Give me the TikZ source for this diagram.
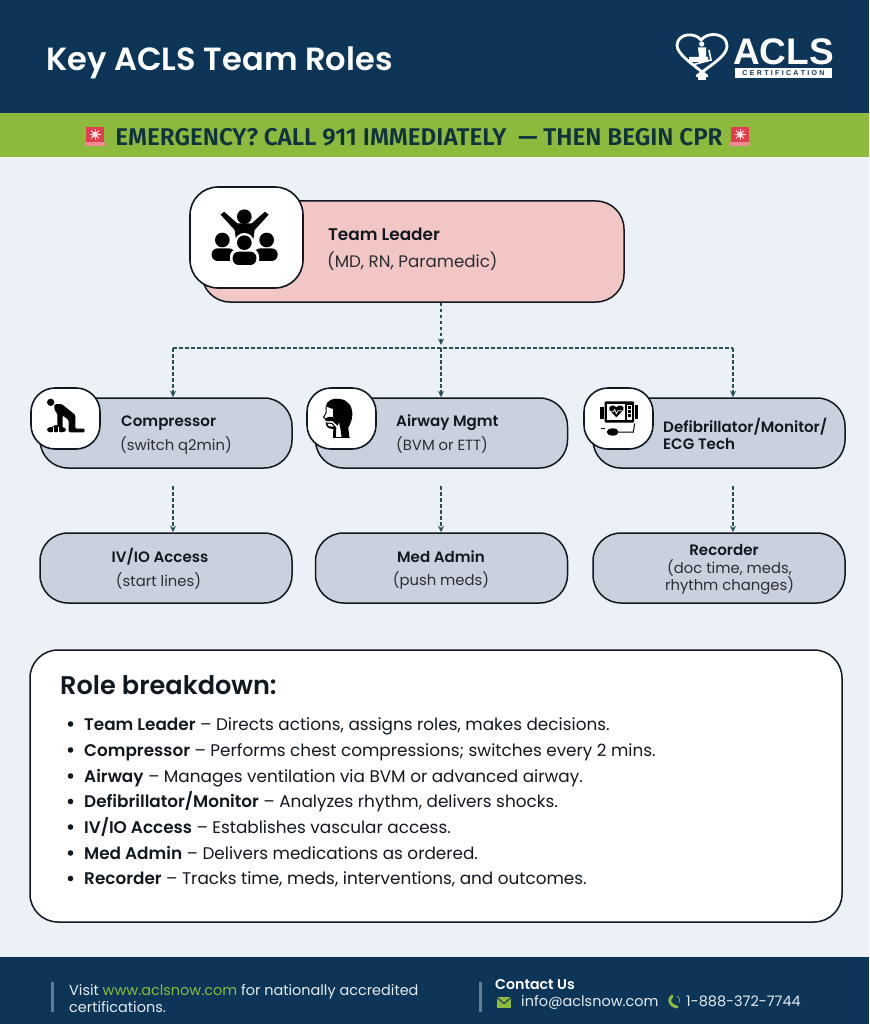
\documentclass[tikz,border=0pt]{standalone}
\usepackage{fontspec}
\setmainfont{Poppins}[BoldFont={Poppins SemiBold}]
\newfontfamily\banfont{Fira Sans}[BoldFont={Fira Sans SemiBold}]
\newfontfamily\logofont{Liberation Sans}
\usetikzlibrary{arrows.meta}
\definecolor{navy}{HTML}{0C3558}
\definecolor{limeg}{HTML}{8DB93D}
\definecolor{pagebg}{HTML}{ECF0F7}
\definecolor{pinkb}{HTML}{F3C6C6}
\definecolor{slateb}{HTML}{CAD1DE}
\definecolor{ink}{HTML}{111820}
\definecolor{teal}{HTML}{27505A}
\definecolor{sirenr}{HTML}{E23E4E}
\definecolor{footbar}{HTML}{5F7F95}
\definecolor{txtg}{HTML}{2A2E33}
\definecolor{bantxt}{HTML}{10323F}
\tikzset{
 roundbox/.style={draw=ink,line width=1.5pt,rounded corners=28pt,anchor=center,inner sep=0pt},
 rolebox/.style={roundbox,fill=slateb,minimum width=252pt,minimum height=70pt},
 iconbox/.style={draw=ink,line width=1.6pt,fill=white,rounded corners=24pt,minimum width=69pt,minimum height=61pt,inner sep=0pt},
 link/.style={draw=teal,line width=1.3pt,dash pattern=on 3.6pt off 2.4pt},
 linka/.style={link,-{Stealth[length=6.5pt,width=6pt,teal]}},
 tname/.style={font=\fontsize{15.1}{17}\selectfont\bfseries,text=ink,inner sep=0pt,anchor=west},
 tsub/.style={font=\fontsize{14.8}{17}\selectfont,text=txtg,inner sep=0pt,anchor=west},
 cname/.style={font=\fontsize{15.1}{17}\selectfont\bfseries,text=ink,inner sep=0pt},
 csub/.style={font=\fontsize{14.8}{17}\selectfont,text=txtg,inner sep=0pt,align=center},
 item/.style={font=\fontsize{16.85}{19}\selectfont,text=ink,inner sep=0pt,anchor=west,text height=12pt,text depth=4pt},
 foot/.style={font=\fontsize{14.45}{17}\selectfont,text=white!90!navy,inner sep=0pt,anchor=west,text height=11pt,text depth=3pt},
 bar/.style={draw=footbar,line width=3pt}
}
\newcommand{\siren}[1]{%
 \begin{scope}[shift={#1}]
  \fill[sirenr] (0,0) rectangle (18,15);
  \fill[sirenr!60!white] (-1,15) rectangle (19,19);
  \fill[white!85!sirenr] (9,7.5) circle (2.8);
  \foreach \a in {0,45,...,315} \draw[white!85!sirenr,line width=.9pt] (9,7.5) -- ++(\a:5.5);
 \end{scope}}
\begin{document}
\begin{tikzpicture}[x=1pt,y=-1pt]
\useasboundingbox (0,0) rectangle (869,1024);
\fill[pagebg] (0,0) rectangle (869,1024);
\fill[navy] (0,0) rectangle (869,113);
\fill[limeg] (0,113) rectangle (869,157.5);
\fill[navy] (0,957) rectangle (869,1024);
\node[anchor=west,inner sep=0pt,text=white,font=\fontsize{32.1}{36}\selectfont\bfseries,text height=24pt,text depth=7pt] (title) at (46,62) {Key ACLS Team Roles};
% logo
\draw[white,line width=2.8pt,line cap=round] (707,76) .. controls (690,62) and (677,54) .. (677,45) .. controls (678,33) and (695,32) .. (701,40) .. controls (708,31) and (727,33) .. (727,46) .. controls (727,56) and (712,64) .. (697,76);
\fill[white] (698,74) rectangle (706,80);
\fill[white] (701.7,44) circle (2.6);
\fill[white] (698,47.5) -- (706,47.5) -- (706,57) -- (708,57) -- (708,62) -- (689,62) -- (689,57) -- (699,57) -- cycle;
\draw[white,line width=1.6pt] (709,50) -- (711,60) -- (692,65);
\node[anchor=base west,inner sep=0pt,text=white,font=\logofont\fontsize{37}{40}\selectfont\bfseries,text height=27pt,text depth=0pt] (logotxt) at (733,65) {ACLS};
\fill[white] (735,68.5) rectangle (832,78);
\node[inner sep=0pt,text=navy,font=\logofont\fontsize{7}{8}\selectfont\bfseries] (logosub) at (783.5,73.3) {C\,\,E\,\,R\,\,T\,\,I\,\,F\,\,I\,\,C\,\,A\,\,T\,\,I\,\,O\,\,N};
% banner
\siren{(86,127)}
\siren{(731,127)}
\node[inner sep=0pt,text=bantxt,font=\banfont\fontsize{24.2}{27}\selectfont\bfseries] (banner) at (419,137) {EMERGENCY? CALL 911 IMMEDIATELY\ \ — THEN BEGIN CPR};
% boxes
\node[roundbox,fill=pinkb,minimum width=422pt,minimum height=101pt] (leader) at (413,251.5) {};
\node[iconbox,rounded corners=28pt,minimum width=113pt,minimum height=101pt] (leadicon) at (246.5,237.5) {};
\node[rolebox] (comp) at (166,433) {};
\node[rolebox] (airw) at (441.5,433) {};
\node[rolebox] (defi) at (719,433) {};
\node[rolebox] (ivio) at (166,568) {};
\node[rolebox] (meda) at (441.5,568) {};
\node[rolebox] (reco) at (719,568) {};
\node[iconbox] (compicon) at (65.5,418.5) {};
\node[iconbox] (airwicon) at (341.5,418.5) {};
\node[iconbox] (defiicon) at (618.5,418.5) {};
% connectors
\coordinate (hub) at (441,348);
\coordinate (hubl) at (173,348);
\coordinate (hubr) at (733,348);
\coordinate (s1) at (173,486);
\coordinate (s2) at (441,486);
\coordinate (s3) at (733,486);
\draw[linka] (leader.south -| hub) -- (441,345);
\draw[link] (hubl) -- (hubr);
\draw[linka] (hubl) -- (comp.north -| hubl);
\draw[linka] (hub) -- (airw.north -| hub);
\draw[linka] (hubr) -- (defi.north -| hubr);
\draw[linka] (s1) -- (ivio.north -| s1);
\draw[linka] (s2) -- (meda.north -| s2);
\draw[linka] (s3) -- (reco.north -| s3);
% labels
\node[anchor=west,inner sep=0pt,text=ink,font=\fontsize{16.9}{19}\selectfont\bfseries] (l1) at (328,234) {Team Leader};
\node[anchor=west,inner sep=0pt,text=txtg,font=\fontsize{16.7}{19}\selectfont] (l2) at (327,261.5) {(MD, RN, Paramedic)};
\node[tname] (c1) at (121,423) {Compressor};
\node[tsub] (c2) at (120,445.5) {(switch q2min)};
\node[tname] (a1) at (396,422.5) {Airway Mgmt};
\node[tsub] (a2) at (396,445) {(BVM or ETT)};
\node[tname,align=left] (d1) at (663,434) {Defibrillator/Monitor/\\ECG Tech};
\node[cname] (i1) at (160,556.5) {IV/IO Access};
\node[csub] (i2) at (158.5,580.5) {(start lines)};
\node[cname] (m1) at (441,556.5) {Med Admin};
\node[csub] (m2) at (441,580.5) {(push meds)};
\node[cname] (r1) at (724,549.5) {Recorder};
\node[csub] (r2) at (729.5,577.5) {(doc time, meds,\\rhythm changes)};
% leader icon
\begin{scope}[shift={(180,180)},scale=1/3]
 \fill[black] (193,110) circle (22);
 \fill[black] (122,104) -- (132,95) -- (172,130) -- (215,130) -- (255,95) -- (266,104) -- (224,150) -- (220,178) -- (168,178) -- (164,150) -- cycle;
 \fill[black] (127,180) circle (22);
 \fill[black] (260,180) circle (22);
 \fill[black,rounded corners=6pt] (95,243) -- (95,205) -- (165,205) -- (165,243) -- cycle;
 \fill[black,rounded corners=6pt] (223,243) -- (223,205) -- (293,205) -- (293,243) -- cycle;
 \fill[white] (193,188) circle (29);
 \fill[white,rounded corners=7pt] (150,265) -- (150,208) -- (237,208) -- (237,265) -- cycle;
 \fill[black] (193,188) circle (22);
 \fill[black,rounded corners=6pt] (158,255) -- (158,215) -- (229,215) -- (229,255) -- cycle;
\end{scope}
% compressor icon
\begin{scope}[shift={(20,380)},scale=1/3]
 \fill[black] (92,67) circle (11);
 \fill[black,rounded corners=1.2pt] (103,73) -- (125,72) -- (166,105) -- (166,146) -- (194,146) -- (194,157) -- (146,157) -- (146,120) -- (128,106) -- (128,150) -- (112,150) -- (112,102) -- (103,88) -- cycle;
 \fill[black] (93,149) ellipse (12 and 8);
 \fill[black] (108,146) ellipse (13 and 11);
 \fill[black] (125,149) ellipse (13 and 8);
 \draw[white,line width=.5pt] (100,140) -- (100,157);
 \draw[white,line width=.5pt] (116,140) -- (116,157);
\end{scope}
% airway icon
\begin{scope}[shift={(305,385)},scale=1/3]
 \fill[black] (62,64) .. controls (66,45) and (85,38) .. (105,42) .. controls (130,45) and (143,65) .. (142,90) .. controls (141,108) and (134,120) .. (130,128) -- (133,158) -- (110,158) -- (106,130) -- (102,112) -- (84,94) -- (84,72) -- cycle;
 \draw[black,line width=1pt] (63,66) -- (63,84) -- (56,96) -- (61,102);
 \fill[black] (60,101) .. controls (72,92) and (92,92) .. (102,112) -- (98,122) -- (82,108) -- (62,108) -- cycle;
 \fill[black] (62,112) -- (82,114) -- (94,128) -- (92,158) -- (84,158) -- (85,132) .. controls (70,132) and (62,125) .. (62,112);
 \fill[white] (67,116) -- (80,117) -- (86,125) -- (72,124) -- cycle;
 \draw[black,line width=.8pt] (84,158) -- (135,158);
\end{scope}
% defib icon
\begin{scope}[shift={(590,390)},scale=1/3]
 \fill[black,rounded corners=1pt] (44,34) rectangle (132,98);
 \fill[white] (52,41) rectangle (106,90);
 \fill[white] (111,45) rectangle (126,90);
 \fill[black] (113,49) rectangle (124,56);
 \fill[black] (113,61) rectangle (124,68);
 \fill[black] (113,73) rectangle (124,80);
 \fill[black] (30,50) rectangle (42,88);
 \fill[black] (134,46) rectangle (144,88);
 \fill[black] (79,82) -- (58,60) .. controls (53,46) and (72,42) .. (79,52) .. controls (86,42) and (105,46) .. (100,60) -- cycle;
 \draw[white,line width=.7pt] (61,65) -- (70,65) -- (74,58) -- (79,71) -- (84,62) -- (96,62);
 \fill[black] (68,126) ellipse (18 and 11);
 \draw[black,line width=1pt] (86,126) -- (130,126) -- (134,100);
 \draw[black,line width=.5pt] (32,115) -- (44,115);
\end{scope}
% breakdown
\node[roundbox,fill=white,minimum width=812pt,minimum height=272pt] (panel) at (436,786) {};
\node[anchor=west,inner sep=0pt,text=ink,font=\fontsize{25.6}{29}\selectfont\bfseries] (bt) at (60,685.5) {Role breakdown:};
\foreach \yy in {724,750,776,801.5,827,853,878.5} \fill[ink] (70.5,\yy) circle (2.8);
\node[item] (b1) at (84,726) {\textbf{Team Leader} – Directs actions, assigns roles, makes decisions.};
\node[item] (b2) at (84,752) {\textbf{Compressor} – Performs chest compressions; switches every 2 mins.};
\node[item] (b3) at (84,778) {\textbf{Airway} – Manages ventilation via BVM or advanced airway.};
\node[item] (b4) at (84,803.5) {\textbf{Defibrillator/Monitor} – Analyzes rhythm, delivers shocks.};
\node[item] (b5) at (84,829) {\textbf{IV/IO Access} – Establishes vascular access.};
\node[item] (b6) at (84,855) {\textbf{Med Admin} – Delivers medications as ordered.};
\node[item] (b7) at (84,880.5) {\textbf{Recorder} – Tracks time, meds, interventions, and outcomes.};
% footer
\draw[bar] (52,982) -- (52,1012);
\draw[bar] (480,982) -- (480,1012);
\node[foot] (f1) at (69,991.5) {Visit \textcolor{limeg}{www.aclsnow.com} for nationally accredited};
\node[foot] (f2) at (69,1008.5) {certifications.};
\node[foot,font=\fontsize{14.2}{17}\selectfont\bfseries,text=white] (f3) at (495,985) {Contact Us};
\fill[limeg] (497,997) rectangle (511,1008);
\draw[navy,line width=1pt] (497,997.5) -- (504,1003.5) -- (511,997.5);
\node[foot] (f4) at (521,1002.5) {info@aclsnow.com};
\draw[limeg,line width=3pt,line cap=round] (672,996) .. controls (668,1000) and (669,1005) .. (677,1007);
\draw[white!70!navy,line width=.5pt] (677,996) .. controls (680,998) and (680,1001) .. (679,1003);
\node[foot] (f5) at (686,1002.5) {1-888-372-7744};
\end{tikzpicture}
\end{document}
